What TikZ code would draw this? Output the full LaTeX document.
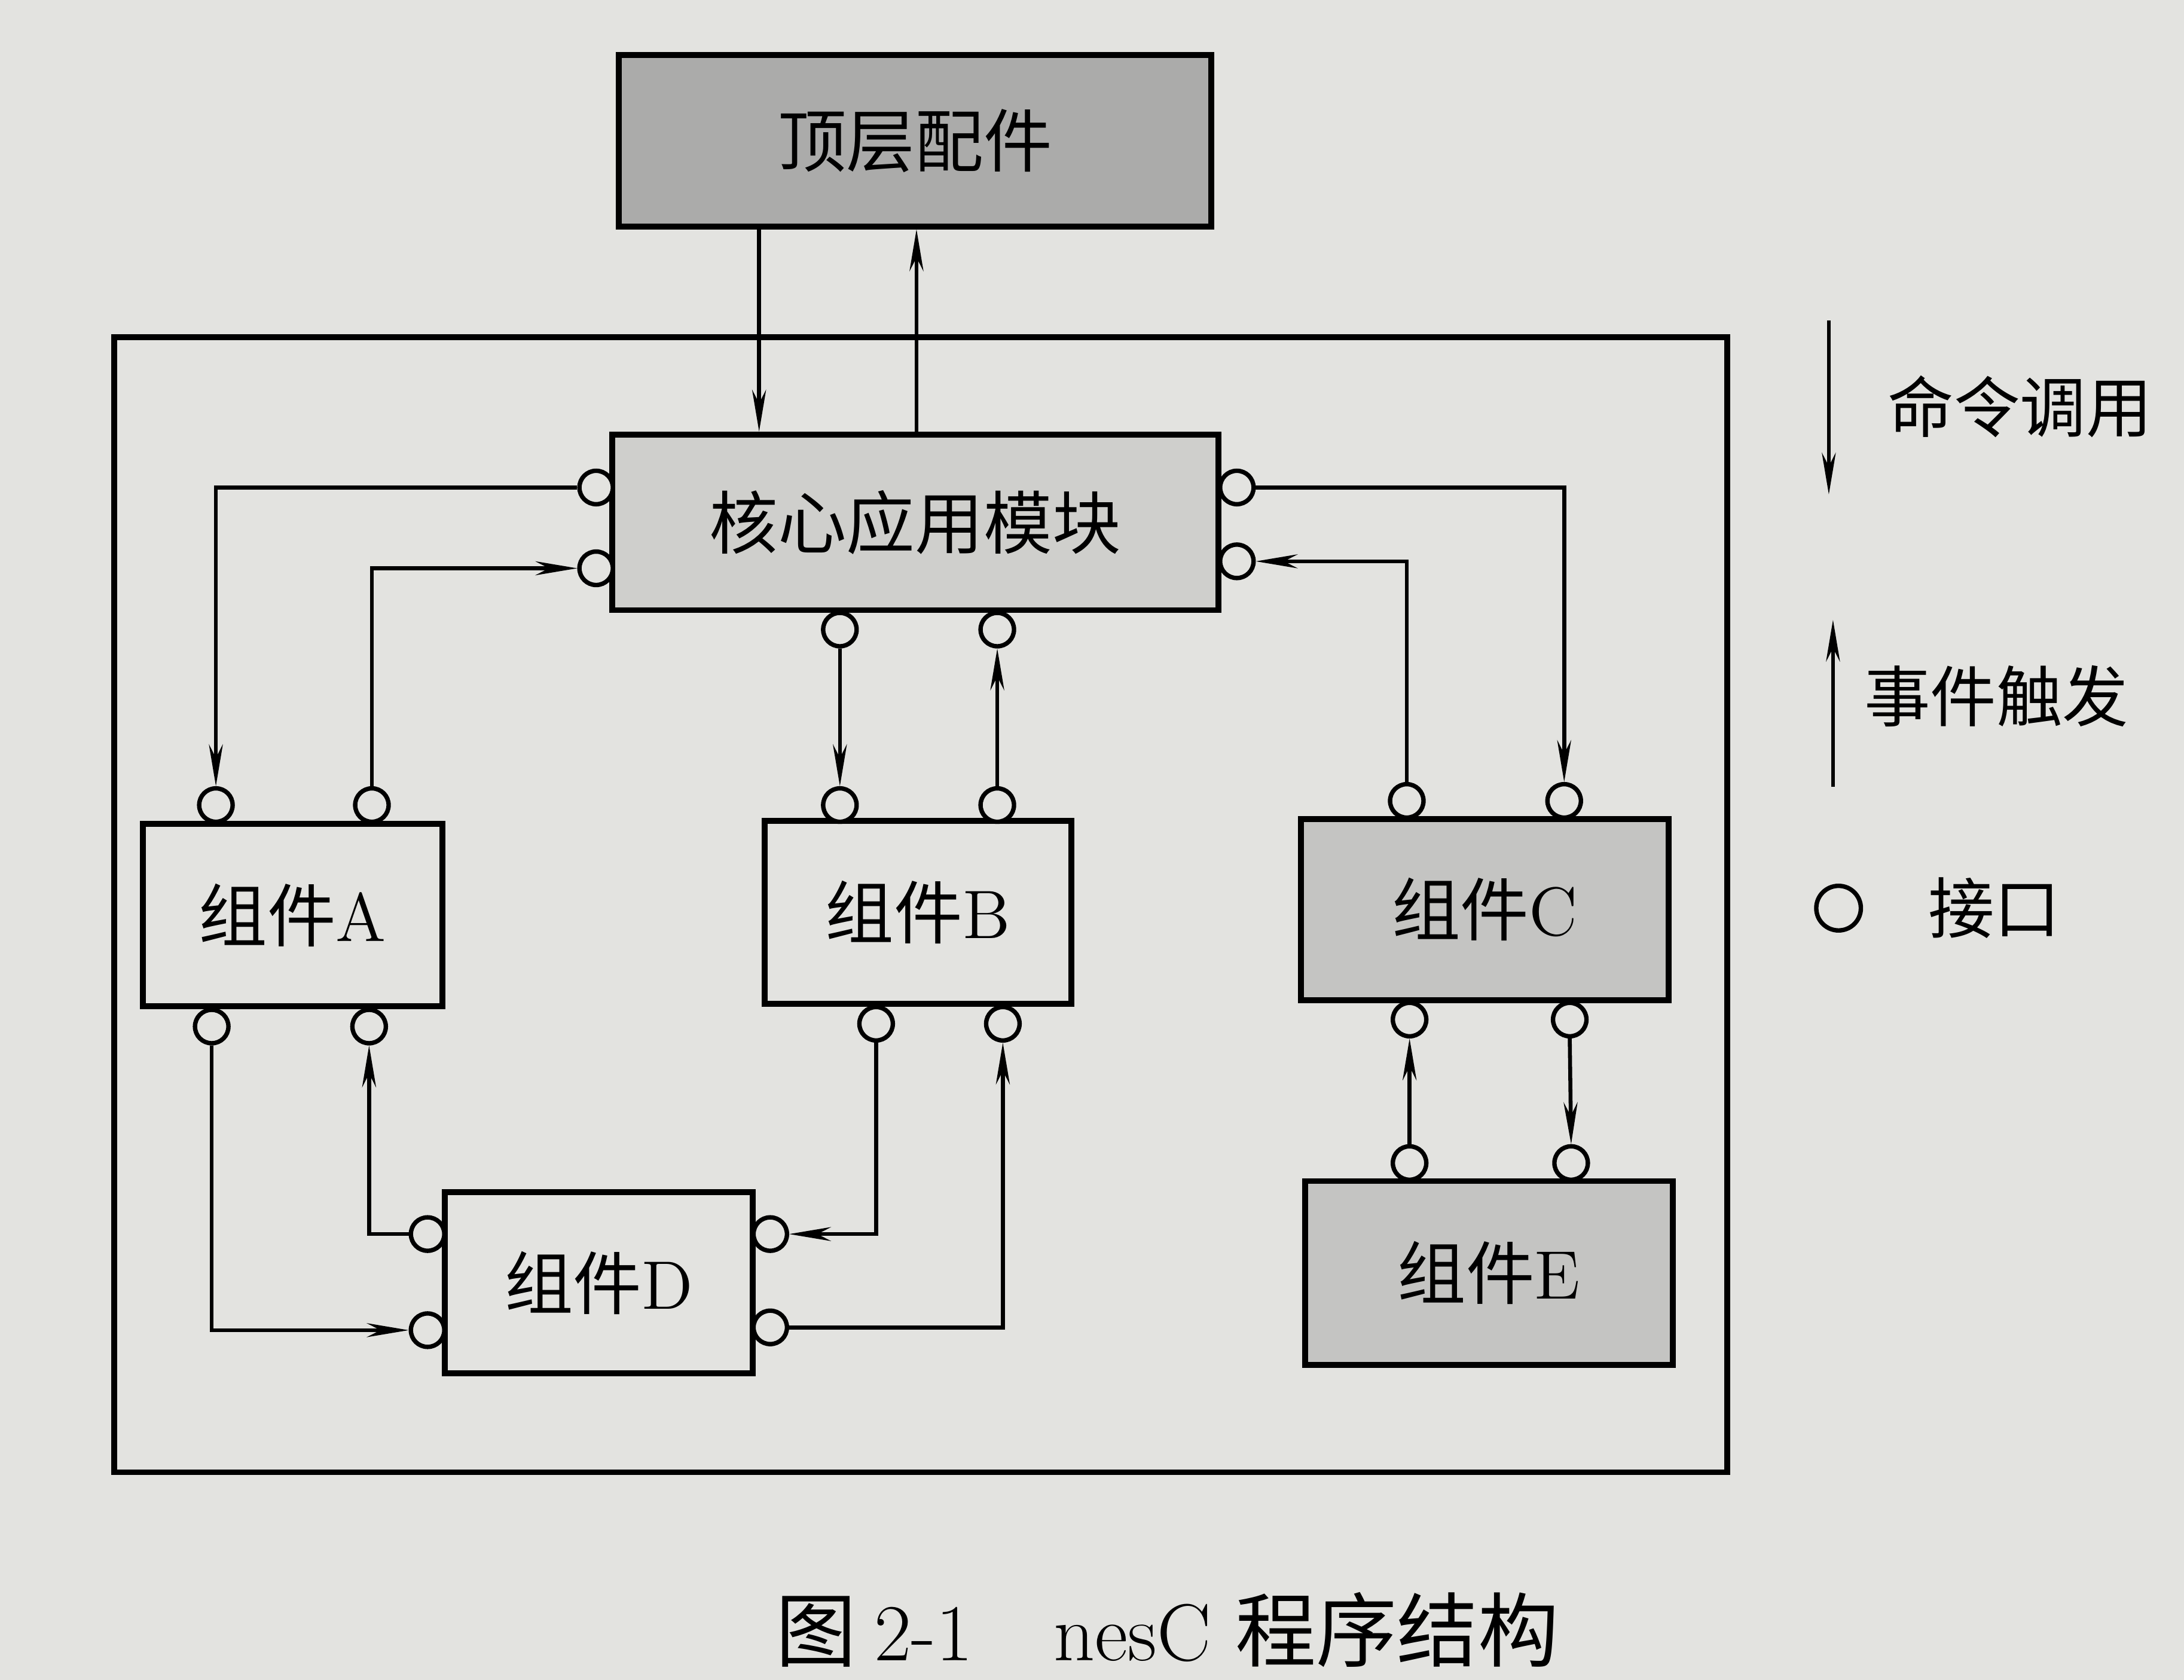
\documentclass[tikz,border=0pt]{standalone}
\usepackage{fontspec}
\newfontfamily\cjk{Noto Sans CJK SC}
\usetikzlibrary{arrows.meta}
\definecolor{paper}{HTML}{E3E3E0}
\definecolor{dark}{HTML}{ABABAA}
\definecolor{mid}{HTML}{CFCFCC}
\definecolor{midb}{HTML}{C4C4C2}
\begin{document}
\begin{tikzpicture}[x=0.01cm,y=-0.01cm,
  box/.style={draw,line width=1.2pt,inner sep=0pt,font=\fontsize{14}{16}\selectfont},
  port/.style={circle,draw,line width=0.9pt,fill=paper,minimum size=0.24cm,inner sep=0pt},
  con/.style={line width=0.8pt,-{Stealth[length=0.3cm,width=0.1cm]}},
  txt/.style={font=\fontsize{13.5}{16}\selectfont}]
\fill[paper] (0,0) rectangle (1568,1206);
\useasboundingbox (0,0) rectangle (1568,1206);
\draw[line width=1.2pt] (82,242) rectangle (1240,1057);
\node[box,fill=dark,minimum width=4.25cm,minimum height=1.23cm] (top) at (657,101) {\cjk 顶层配件};
\node[box,fill=mid,minimum width=4.35cm,minimum height=1.26cm] (core) at (657,375) {\cjk 核心应用模块};
\node[box,fill=paper,minimum width=2.15cm,minimum height=1.31cm] (A) at (210,657) {\cjk 组件\rmfamily A};
\node[box,fill=paper,minimum width=2.2cm,minimum height=1.31cm] (B) at (659,655) {\cjk 组件\rmfamily B};
\node[box,fill=midb,minimum width=2.64cm,minimum height=1.3cm] (C) at (1066,653) {\cjk 组件\rmfamily C};
\node[box,fill=paper,minimum width=2.21cm,minimum height=1.3cm] (D) at (430,921) {\cjk 组件\rmfamily D};
\node[box,fill=midb,minimum width=2.64cm,minimum height=1.32cm] (E) at (1069,914) {\cjk 组件\rmfamily E};
% ports
\node[port] (cl1) at (428,350) {}; \node[port] (cl2) at (428,408) {};
\node[port] (cr1) at (888,350) {}; \node[port] (cr2) at (888,403) {};
\node[port] (cb1) at (603,452) {}; \node[port] (cb2) at (716,452) {};
\node[port] (at1) at (155,578) {}; \node[port] (at2) at (267,578) {};
\node[port] (ab1) at (152,737) {}; \node[port] (ab2) at (265,737) {};
\node[port] (bt1) at (603,578) {}; \node[port] (bt2) at (716,578) {};
\node[port] (bb1) at (629,735) {}; \node[port] (bb2) at (720,735) {};
\node[port] (ct1) at (1010,575) {}; \node[port] (ct2) at (1123,575) {};
\node[port] (cbb1) at (1012,732) {}; \node[port] (cbb2) at (1127,732) {};
\node[port] (dl1) at (307,886) {}; \node[port] (dl2) at (307,955) {};
\node[port] (dr1) at (553,886) {}; \node[port] (dr2) at (553,953) {};
\node[port] (et1) at (1012,835) {}; \node[port] (et2) at (1128,835) {};
% top arrows
\draw[con] (top.south -| 545,0) -- (core.north -| 545,0);
\draw[con] (core.north -| 658,0) -- (top.south -| 658,0);
% connectors
\draw[con] (cl1.west) -| (at1.north);
\draw[con] (at2.north) |- (cl2.west);
\draw[con] (cb1.south) -- (bt1.north);
\draw[con] (bt2.north) -- (cb2.south);
\draw[con] (cr1.east) -| (ct2.north);
\draw[con] (ct1.north) |- (cr2.east);
\draw[con] (ab1.south) |- (dl2.west);
\draw[con] (dl1.west) -| (ab2.south);
\draw[con] (bb1.south) |- (dr1.east);
\draw[con] (dr2.east) -| (bb2.south);
\draw[con] (et1.north) -- (cbb1.south);
\draw[con] (cbb2.south) -- (et2.north);
% legend
\coordinate (l1a) at (1313,230); \coordinate (l1b) at (1313,355);
\draw[con] (l1a) -- (l1b);
\node[txt,anchor=west] (lt1) at (1343,292) {\cjk 命令调用};
\coordinate (l2a) at (1316,565); \coordinate (l2b) at (1316,445);
\draw[con] (l2a) -- (l2b);
\node[txt,anchor=west] (lt2) at (1326,500) {\cjk 事件触发};
\node[port,minimum size=0.32cm] (lp) at (1320,652) {};
\node[txt,anchor=west] (lt3) at (1372,652) {\cjk 接口};
% caption
\node[font=\fontsize{16.5}{19}\selectfont] (cap) at (838,1170) {\cjk 图\ \rmfamily 2-1\quad nesC \cjk 程序结构};
\end{tikzpicture}
\end{document}
